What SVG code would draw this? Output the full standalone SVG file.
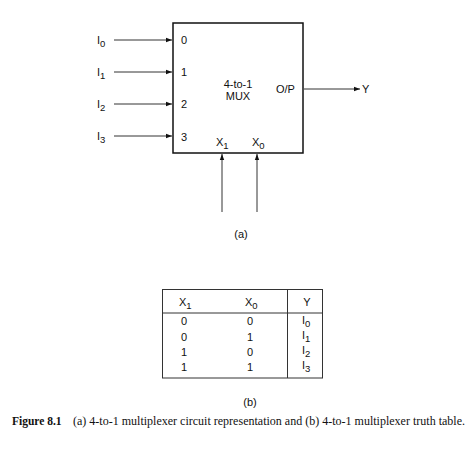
<svg xmlns="http://www.w3.org/2000/svg" width="474" height="456" viewBox="0 0 474 456">
<style>
.t{font-family:"Liberation Sans",Arial,sans-serif;font-size:11px;fill:#111}
.s{font-size:9.5px}
.w{stroke:#333;stroke-width:1;fill:none}
.b{stroke:#111;stroke-width:1.5;fill:none}
.c{font-family:"Liberation Serif","Times New Roman",serif;font-size:11.5px;fill:#111}
</style>
<defs>
<marker id="ah" markerWidth="6" markerHeight="6" refX="6" refY="3" orient="auto" markerUnits="userSpaceOnUse">
<path d="M0,0.8 L6,3 L0,5.2 Z" fill="#111"/>
</marker>
</defs>
<rect width="474" height="456" fill="#fff"/>
<g id="mux">
<rect class="b" x="173" y="23" width="130" height="130"/>
<text class="t" x="181" y="44">0</text>
<text class="t" x="181" y="76">1</text>
<text class="t" x="181" y="108">2</text>
<text class="t" x="181" y="141">3</text>
<text class="t" x="238" y="88" text-anchor="middle">4-to-1</text>
<text class="t" x="238" y="100" text-anchor="middle">MUX</text>
<text class="t" x="276" y="93">O/P</text>
<text class="t" x="216" y="146">X<tspan class="s" dy="3">1</tspan></text>
<text class="t" x="252" y="146">X<tspan class="s" dy="3">0</tspan></text>
</g>
<g id="inputs">
<text class="t" x="97" y="44">I<tspan class="s" dy="3">0</tspan></text>
<text class="t" x="97" y="76">I<tspan class="s" dy="3">1</tspan></text>
<text class="t" x="97" y="108">I<tspan class="s" dy="3">2</tspan></text>
<text class="t" x="97" y="140">I<tspan class="s" dy="3">3</tspan></text>
</g>
<g id="output">
<text class="t" x="362" y="93">Y</text>
</g>
<g id="connectors">
<line class="w" x1="114" y1="40" x2="172" y2="40" marker-end="url(#ah)"/>
<line class="w" x1="114" y1="72" x2="172" y2="72" marker-end="url(#ah)"/>
<line class="w" x1="114" y1="104" x2="172" y2="104" marker-end="url(#ah)"/>
<line class="w" x1="114" y1="136" x2="172" y2="136" marker-end="url(#ah)"/>
<line class="w" x1="304" y1="89" x2="360" y2="89" marker-end="url(#ah)"/>
<line class="w" x1="222" y1="212" x2="222" y2="154" marker-end="url(#ah)"/>
<line class="w" x1="257" y1="212" x2="257" y2="154" marker-end="url(#ah)"/>
</g>
<g id="label-a">
<text class="t" x="241" y="238" text-anchor="middle">(a)</text>
</g>
<g id="table">
<rect class="w" x="162.5" y="289.5" width="160" height="88.5"/>
<line class="w" x1="287.5" y1="289.5" x2="287.5" y2="378"/>
<line class="w" x1="162.5" y1="313" x2="322.5" y2="313"/>
<text class="t" x="179" y="306">X<tspan class="s" dy="3">1</tspan></text>
<text class="t" x="245" y="306">X<tspan class="s" dy="3">0</tspan></text>
<text class="t" x="307" y="306" text-anchor="middle">Y</text>
<g class="t" text-anchor="middle">
<text x="184" y="325">0</text><text x="250" y="325">0</text>
<text x="184" y="341">0</text><text x="250" y="341">1</text>
<text x="184" y="356">1</text><text x="250" y="356">0</text>
<text x="184" y="371">1</text><text x="250" y="371">1</text>
</g>
<text class="t" x="302" y="324">I<tspan class="s" dy="3">0</tspan></text>
<text class="t" x="302" y="339">I<tspan class="s" dy="3">1</tspan></text>
<text class="t" x="302" y="354">I<tspan class="s" dy="3">2</tspan></text>
<text class="t" x="302" y="369">I<tspan class="s" dy="3">3</tspan></text>
</g>
<g id="label-b">
<text class="t" x="250" y="406" text-anchor="middle">(b)</text>
</g>
<g id="caption">
<text class="c" x="12" y="425"><tspan font-weight="bold">Figure 8.1</tspan><tspan x="73" textLength="392" lengthAdjust="spacingAndGlyphs">(a) 4-to-1 multiplexer circuit representation and (b) 4-to-1 multiplexer truth table.</tspan></text>
</g>
</svg>
